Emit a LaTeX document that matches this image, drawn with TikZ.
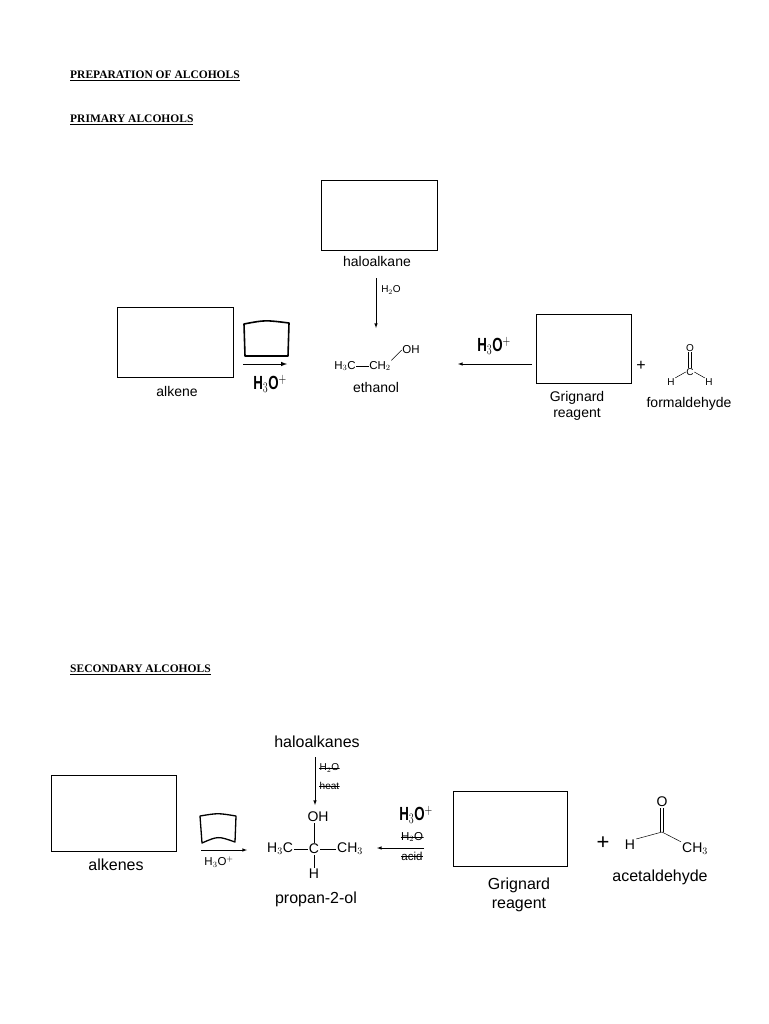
\documentclass[tikz,border=0pt]{standalone}
\usepackage{fontspec}
\setmainfont{Liberation Serif}
\newfontfamily\chemfont{Liberation Sans}
\usetikzlibrary{positioning}
\tikzset{
    lbl/.style={font=\chemfont\fontsize{14}{16}\selectfont, inner sep=1pt, align=center},
    big/.style={font=\chemfont\fontsize{16}{19}\selectfont, inner sep=1pt, align=center},
    sm/.style={font=\chemfont\fontsize{10}{11}\selectfont, inner sep=0.5pt},
    mid/.style={font=\chemfont\fontsize{11.5}{13}\selectfont, inner sep=0.5pt},
    hand/.style={font=\chemfont\bfseries\fontsize{19}{19}\selectfont, inner sep=0pt, xscale=0.7},
    head/.style={font=\bfseries\fontsize{11.5}{13}\selectfont, anchor=west, inner sep=0pt},
    struck/.style={path picture={\draw[line width=0.8pt] (path picture bounding box.west) -- (path picture bounding box.east);}},
    rxn/.style={-latex, line width=0.6pt},
    bond/.style={line width=0.5pt},
    sketch/.style={line width=1.6pt, line join=round}
}
\begin{document}
\begin{tikzpicture}[x=1pt,y=-1pt]
                \useasboundingbox (0,0) rectangle (768,1024);
                % headings
                \node[head] (title) at (70,76) {\underline{PREPARATION OF ALCOHOLS}};
                \node[head] (prim) at (70,120) {\underline{PRIMARY ALCOHOLS}};
                \node[head] (sec) at (70,670) {\underline{SECONDARY ALCOHOLS}};

                % primary: boxes
                \draw (321,180) rectangle (437,250);
                    \node[lbl] (halo) at (377,261) {haloalkane};
                \draw (117,307) rectangle (233,377);
                    \node[lbl] (alkene) at (177,391) {alkene};
                \draw (536,314) rectangle (631,383);
                    \node[lbl, font=\chemfont\fontsize{14}{16.5}\selectfont] (grig) at (577,406) {Grignard\\reagent};
                % ethanol
                \node[mid] (ch3) at (345,366) {H$_3$C};
                \node[mid] (ch2) at (380,366) {CH$_2$};
                \node[mid] (oh) at (411,350) {OH};
                \draw[bond] (ch3) -- (ch2);
                \draw[bond] (ch2.north east) -- (oh.west);
                    \node[lbl] (eth) at (376,387) {ethanol};
                % reagent arrows
                \coordinate (downA) at (376,278);
                \coordinate (downB) at (376,328);
                \draw[rxn] (downA) -- (downB);
                    \node[sm] (h2o) at (391,290) {H$_2$O};
                \coordinate (leftA) at (243,364);
                \coordinate (leftB) at (287,364);
                \draw[rxn, line width=1pt] (leftA) -- (leftB);
                \draw[sketch] (244,324) .. controls (265,320) .. (289,323) -- (288,356) -- (245,356) -- cycle;
                    \node[hand] (hw1) at (270,384) {H$_3$O$^+$};
                \coordinate (rightA) at (532,364);
                \coordinate (rightB) at (458,364);
                \draw[rxn] (rightA) -- (rightB);
                    \node[hand] (hw2) at (494,346) {H$_3$O$^+$};
                \node[big] (plus1) at (641,366) {+};
                % formaldehyde
                \node[sm] (fO) at (690,348) {O};
                \node[sm] (fC) at (690,372) {C};
                \node[sm] (fH1) at (671,382) {H};
                \node[sm] (fH2) at (709,382) {H};
                \draw[bond] ([xshift=-1.5pt]fO.south) -- ([xshift=-1.5pt]fC.north) ([xshift=1.5pt]fO.south) -- ([xshift=1.5pt]fC.north);
                \draw[bond] (fC.west) -- (fH1.north east) (fC.east) -- (fH2.north west);
                    \node[lbl] (form) at (689,404) {formaldehyde};

                % secondary: boxes
                \draw (51,775) rectangle (176,851);
                    \node[big] (alkenes) at (116,865) {alkenes};
                \draw (453,791) rectangle (567,866);
                    \node[big] (grig2) at (519,895) {Grignard\\reagent};
                    \node[big] (halos) at (317,742) {haloalkanes};
                % propan-2-ol
                \node[lbl] (pC) at (314,849) {C};
                \node[lbl] (pL) at (280,849) {H$_3$C};
                \node[lbl] (pR) at (350,849) {CH$_3$};
                \node[lbl] (pO) at (318,817) {OH};
                \node[lbl] (pH) at (314,874) {H};
                \draw[bond] (pL) -- (pC) -- (pR) (pO.south -| pC) -- (pC) -- (pH);
                    \node[big] (prop) at (316,899) {propan-2-ol};
                % arrows
                \coordinate (dA) at (315,757);
                \coordinate (dB) at (315,805);
                \draw[rxn] (dA) -- (dB);
                    \node[sm, struck, anchor=west] (s1) at (319,768) {H$_2$O};
                    \node[sm, struck, anchor=west] (s2) at (319,786) {heat};
                \coordinate (lA) at (201,850);
                \coordinate (lB) at (247,850);
                \draw[rxn] (lA) -- (lB);
                \draw[sketch, line width=1.3pt] (200,816) .. controls (218,813) .. (236,816) -- (235,842) .. controls (218,836) .. (202,843) -- cycle;
                    \node[mid] (h3o) at (219,862) {H$_3$O$^+$};
                \coordinate (rA) at (424,848);
                \coordinate (rB) at (377,848);
                \draw[rxn] (rA) -- (rB);
                    \node[hand] (hw3) at (416,815) {H$_3$O$^+$};
                    \node[mid, struck] (s3) at (412,837) {H$_2$O};
                    \node[mid, struck] (s4) at (412,856) {acid};
                \node[big, font=\chemfont\fontsize{22}{22}\selectfont] (plus2) at (603,843) {+};
                % acetaldehyde
                \node[lbl] (aO) at (662,802) {O};
                \coordinate (aC) at (662,832);
                \node[lbl] (aH) at (630,845) {H};
                \node[lbl, anchor=west] (aR) at (681,849) {CH$_3$};
                \draw[bond] ([xshift=-1.5pt]aO.south) -- ([xshift=-1.5pt]aC) ([xshift=1.5pt]aO.south) -- ([xshift=1.5pt]aC);
                \draw[bond] (aH.north east) -- (aC) -- (aR.north west);
                    \node[big] (acet) at (660,877) {acetaldehyde};
            \end{tikzpicture}
\end{document}
